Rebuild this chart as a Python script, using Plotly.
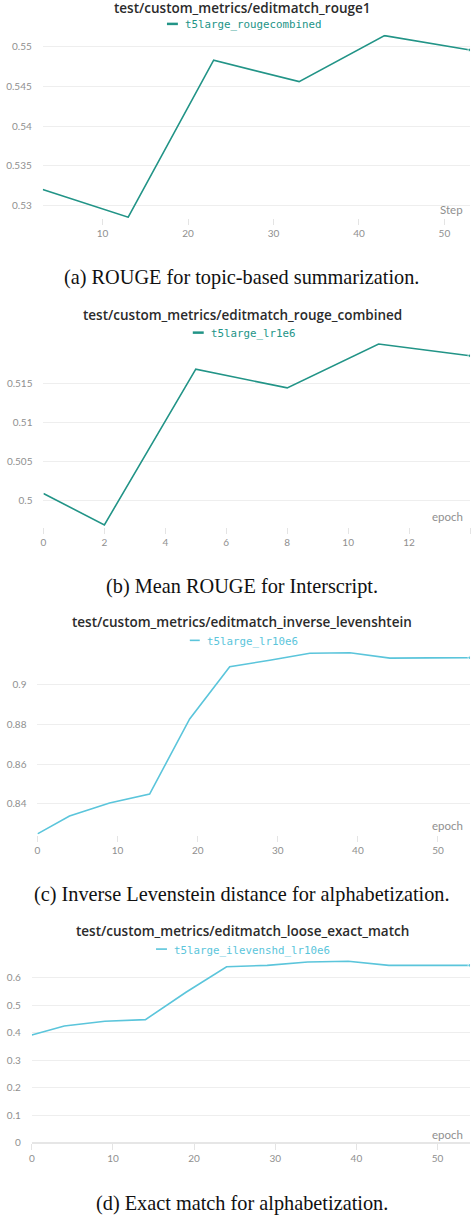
import plotly.graph_objects as go

W, H = 474, 1218

# (a) ROUGE for topic-based summarization
a_step = [3, 13, 23, 33, 43, 53]
a_rouge1 = [0.5320, 0.5285, 0.5483, 0.5456, 0.5514, 0.5496]

# (b) Mean ROUGE for Interscript
b_epoch = [0, 2, 5, 8, 11, 14]
b_rouge_combined = [0.5009, 0.4969, 0.5168, 0.5144, 0.5200, 0.5185]

# (c) Inverse Levenshtein for alphabetization
c_epoch = [0, 4, 9, 14, 19, 24, 29, 34, 39, 44, 49, 54]
c_inv_lev = [0.8250, 0.8340, 0.8405, 0.8450, 0.8826, 0.9088, 0.9120, 0.9155,
             0.9158, 0.9131, 0.9132, 0.9133]

# (d) Exact match for alphabetization
d_epoch = [0, 4, 9, 14, 19, 24, 29, 34, 39, 44, 49, 54]
d_exact = [0.392, 0.425, 0.442, 0.448, 0.548, 0.641, 0.646, 0.658,
           0.661, 0.646, 0.646, 0.646]

titles = [
    "test/custom_metrics/editmatch_rouge1",
    "test/custom_metrics/editmatch_rouge_combined",
    "test/custom_metrics/editmatch_inverse_levenshtein",
    "test/custom_metrics/editmatch_loose_exact_match",
]
run_names = ["t5large_rougecombined", "t5large_lr1e6", "t5large_lr10e6",
             "t5large_ilevenshd_lr10e6"]
x_labels = ["Step", "epoch", "epoch", "epoch"]
captions = [
    "(a) ROUGE for topic-based summarization.",
    "(b) Mean ROUGE for Interscript.",
    "(c) Inverse Levenstein distance for alphabetization.",
    "(d) Exact match for alphabetization.",
]
y_ticks = [
    [0.53, 0.535, 0.54, 0.545, 0.55],
    [0.5, 0.505, 0.51, 0.515],
    [0.84, 0.86, 0.88, 0.9],
    [0, 0.1, 0.2, 0.3, 0.4, 0.5, 0.6],
]
x_ticks = [
    [10, 20, 30, 40, 50],
    [0, 2, 4, 6, 8, 10, 12, 14],
    [0, 10, 20, 30, 40, 50],
    [0, 10, 20, 30, 40, 50],
]

TEAL = "#229487"
CYAN = "#5bc5db"

# pixel layout of each panel: plot box, title/legend/caption rows
panels = [
    dict(x=a_step, y=a_rouge1, color=TEAL, left=40, right=470, top=35, bottom=219,
         xr=[3, 53], yr=[0.52838, 0.5515], title_y=8.5, leg_y=24, leg_x=165, leg_w=11,
         lab_y=210, cap_y=279),
    dict(x=b_epoch, y=b_rouge_combined, color=TEAL, left=40.7, right=470, top=344, bottom=529,
         xr=[0, 14], yr=[0.49665, 0.52019], title_y=316, leg_y=334, leg_x=191, leg_w=11,
         lab_y=519, cap_y=589),
    dict(x=c_epoch, y=c_inv_lev, color=CYAN, left=34.7, right=470, top=654, bottom=838,
         xr=[0, 54], yr=[0.82468, 0.9165], title_y=625, leg_y=643, leg_x=188, leg_w=10,
         lab_y=829, cap_y=898),
    dict(x=d_epoch, y=d_exact, color=CYAN, left=29, right=470, top=964, bottom=1147.3,
         xr=[0, 54], yr=[0, 0.6653], title_y=935, leg_y=953, leg_x=154, leg_w=11,
         lab_y=1139, cap_y=1208),
]


def px_x(p):
    return p / W


def px_y(p):
    return 1 - p / H


fig = go.Figure()
annotations = []
shapes = []
tick_font = dict(family="Lato", size=10, color="#8f8f8f")

for i, p in enumerate(panels):
    n = "" if i == 0 else str(i + 1)
    sizes = [0] * (len(p["x"]) - 1) + [4]
    fig.add_trace(go.Scatter(
        x=p["x"], y=p["y"], mode="lines+markers",
        line=dict(color=p["color"], width=1.6),
        marker=dict(size=sizes, color=p["color"]),
        xaxis="x" + n, yaxis="y" + n, showlegend=False,
    ))
    fig.update_layout(**{
        "xaxis" + n: dict(
            domain=[px_x(p["left"]), px_x(p["right"])], range=p["xr"],
            anchor="y" + n, tickvals=x_ticks[i], showgrid=False, zeroline=False,
            ticks="outside", ticklen=6, tickcolor="#e4e4e4", tickfont=tick_font,
            showline=False,
        ),
        "yaxis" + n: dict(
            domain=[px_y(p["bottom"]), px_y(p["top"])], range=p["yr"],
            anchor="x" + n, tickvals=y_ticks[i], showgrid=True, gridcolor="#eeeeee",
            gridwidth=1, zeroline=(i == 3), zerolinecolor="#e6e6e6", zerolinewidth=1.5,
            tickfont=tick_font, ticklabelstandoff=10, showline=False,
        ),
    })
    annotations.append(dict(
        text=titles[i], xref="paper", yref="paper", x=px_x(241), y=px_y(p["title_y"]),
        xanchor="center", yanchor="middle", showarrow=False,
        font=dict(family="Open Sans", size=13.5, color="#2b2b2b", weight=600),
    ))
    shapes.append(dict(
        type="line", xref="paper", yref="paper",
        x0=px_x(p["leg_x"]), x1=px_x(p["leg_x"] + p["leg_w"]),
        y0=px_y(p["leg_y"]), y1=px_y(p["leg_y"]),
        line=dict(color=p["color"], width=2.5 if i < 2 else 1.6),
    ))
    annotations.append(dict(
        text=run_names[i], xref="paper", yref="paper",
        x=px_x(p["leg_x"] + p["leg_w"] + 5), y=px_y(p["leg_y"] + 1),
        xanchor="left", yanchor="middle", showarrow=False,
        font=dict(family="DejaVu Sans Mono", size=10.8, color=p["color"]),
    ))
    annotations.append(dict(
        text=x_labels[i], xref="paper", yref="paper", x=px_x(465), y=px_y(p["lab_y"]),
        xanchor="right", yanchor="middle", showarrow=False,
        font=dict(family="Lato", size=11.5, color="#8f8f8f"),
    ))
    annotations.append(dict(
        text=captions[i], xref="paper", yref="paper", x=px_x(240.5), y=px_y(p["cap_y"]),
        xanchor="center", yanchor="middle", showarrow=False,
        font=dict(family="Liberation Serif", size=20.3, color="#111111"),
    ))

fig.update_layout(
    width=W, height=H,
    margin=dict(l=0, r=0, t=0, b=0),
    paper_bgcolor="white", plot_bgcolor="white",
    annotations=annotations, shapes=shapes,
)

# drop the default page margin so the figure sits at the window's corner
fig.write_html(
    "out.html",
    config={"displayModeBar": False},
    post_script="document.body.style.margin='0';document.body.style.overflow='hidden';",
)
